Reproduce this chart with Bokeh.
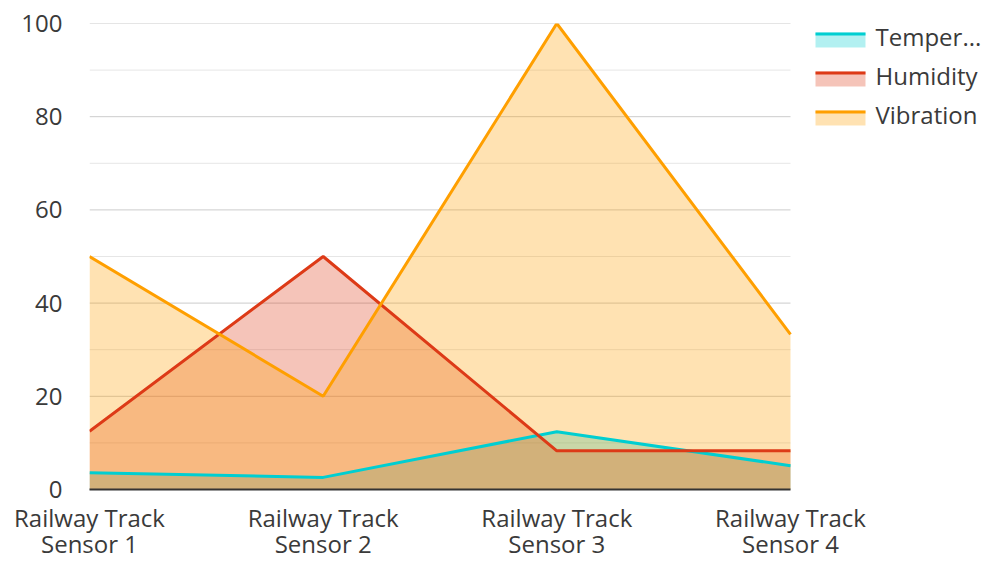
from bokeh.plotting import figure
from bokeh.models import FixedTicker, Range1d, BoxAnnotation, Label, LinearAxis
from bokeh.embed import file_html
from bokeh.resources import INLINE

categories_line1 = ["Railway Track", "Railway Track", "Railway Track", "Railway Track"]
categories_line2 = ["Sensor 1", "Sensor 2", "Sensor 3", "Sensor 4"]
series_names = ["Temper...", "Humidity", "Vibration"]
temperature = [3.6, 2.6, 12.4, 5.1]
humidity = [12.5, 50, 8.3, 8.3]
vibration = [50, 20, 100, 33.3]
colors = ["#00CED1", "#DD3A17", "#FF9F00"]
y_ticks = [0, 20, 40, 60, 80, 100]
y_minor = [10, 30, 50, 70, 90]

FONT = "Open Sans"
TXT = "#3a3a3a"
FS = "24px"

n = len(categories_line1)
xs = list(range(n))

FRAME_L, FRAME_B, LAST_X = 89, 490, 790
x_end = (n - 1) * (984 - FRAME_L) / (LAST_X - FRAME_L)

p = figure(width=984, height=562, output_backend="svg", toolbar_location=None,
           x_range=Range1d(0, x_end), y_range=Range1d(0, 100),
           min_border_left=FRAME_L, min_border_right=0, min_border_top=23,
           min_border_bottom=562 - FRAME_B, x_axis_location=None)
p.outline_line_color = None
p.background_fill_color = "white"
p.border_fill_color = "white"

p.segment(x0=[0] * len(y_minor), x1=[n - 1] * len(y_minor), y0=y_minor, y1=y_minor,
          line_color="#e6e6e6", line_width=1)
p.segment(x0=[0] * len(y_ticks), x1=[n - 1] * len(y_ticks), y0=y_ticks, y1=y_ticks,
          line_color="#cccccc", line_width=1)

all_series = [temperature, humidity, vibration]
for vals, c in zip(all_series, colors):
    p.varea(x=xs, y1=[0] * len(vals), y2=vals, fill_color=c, fill_alpha=0.3)
for vals, c in zip(all_series, colors):
    p.line(x=xs, y=vals, line_color=c, line_width=3)


def make_xaxis(labels, standoff, line):
    ax = LinearAxis(ticker=FixedTicker(ticks=xs),
                    major_label_overrides={i: lab for i, lab in enumerate(labels)})
    ax.major_tick_line_color = None
    ax.major_tick_out = 0
    ax.major_tick_in = 0
    ax.minor_tick_line_color = None
    ax.minor_tick_out = 0
    ax.major_label_text_font = FONT
    ax.major_label_text_font_size = FS
    ax.major_label_text_color = TXT
    ax.major_label_standoff = standoff
    if line:
        ax.axis_line_color = "#333333"
        ax.axis_line_width = 2
        ax.bounds = (0, n - 1)
    else:
        ax.axis_line_color = None
    return ax


p.add_layout(make_xaxis(categories_line1, 11, True), "below")
p.add_layout(make_xaxis(categories_line2, -10, False), "below")

p.yaxis.ticker = FixedTicker(ticks=y_ticks, minor_ticks=y_minor)
p.yaxis.axis_line_color = None
p.yaxis.major_tick_line_color = None
p.yaxis.major_tick_out = 0
p.yaxis.minor_tick_line_color = None
p.yaxis.minor_tick_out = 0
p.yaxis.major_label_text_font = FONT
p.yaxis.major_label_text_font_size = FS
p.yaxis.major_label_text_color = TXT
p.yaxis.major_label_standoff = 27

p.xgrid.grid_line_color = None
p.ygrid.grid_line_color = None

# legend: line on top of a light patch, text to the right
rows_y = [37, 76, 115]
for name, c, yy in zip(series_names, colors, rows_y):
    p.add_layout(BoxAnnotation(left=815 - FRAME_L, right=865 - FRAME_L,
                               top=FRAME_B - (yy - 4), bottom=FRAME_B - (yy + 11),
                               left_units="screen", right_units="screen",
                               top_units="screen", bottom_units="screen",
                               fill_color=c, fill_alpha=0.3, line_color=None, level="overlay"))
    p.add_layout(BoxAnnotation(left=815 - FRAME_L, right=865 - FRAME_L,
                               top=FRAME_B - (yy - 4), bottom=FRAME_B - (yy - 1),
                               left_units="screen", right_units="screen",
                               top_units="screen", bottom_units="screen",
                               fill_color=c, fill_alpha=1.0, line_color=None, level="overlay"))
    p.add_layout(Label(x=875 - FRAME_L, y=FRAME_B - yy, x_units="screen", y_units="screen",
                       text=name, text_font=FONT, text_font_size=FS, text_color=TXT,
                       text_baseline="middle"))

open("out.html", "w").write(file_html(p, INLINE))
